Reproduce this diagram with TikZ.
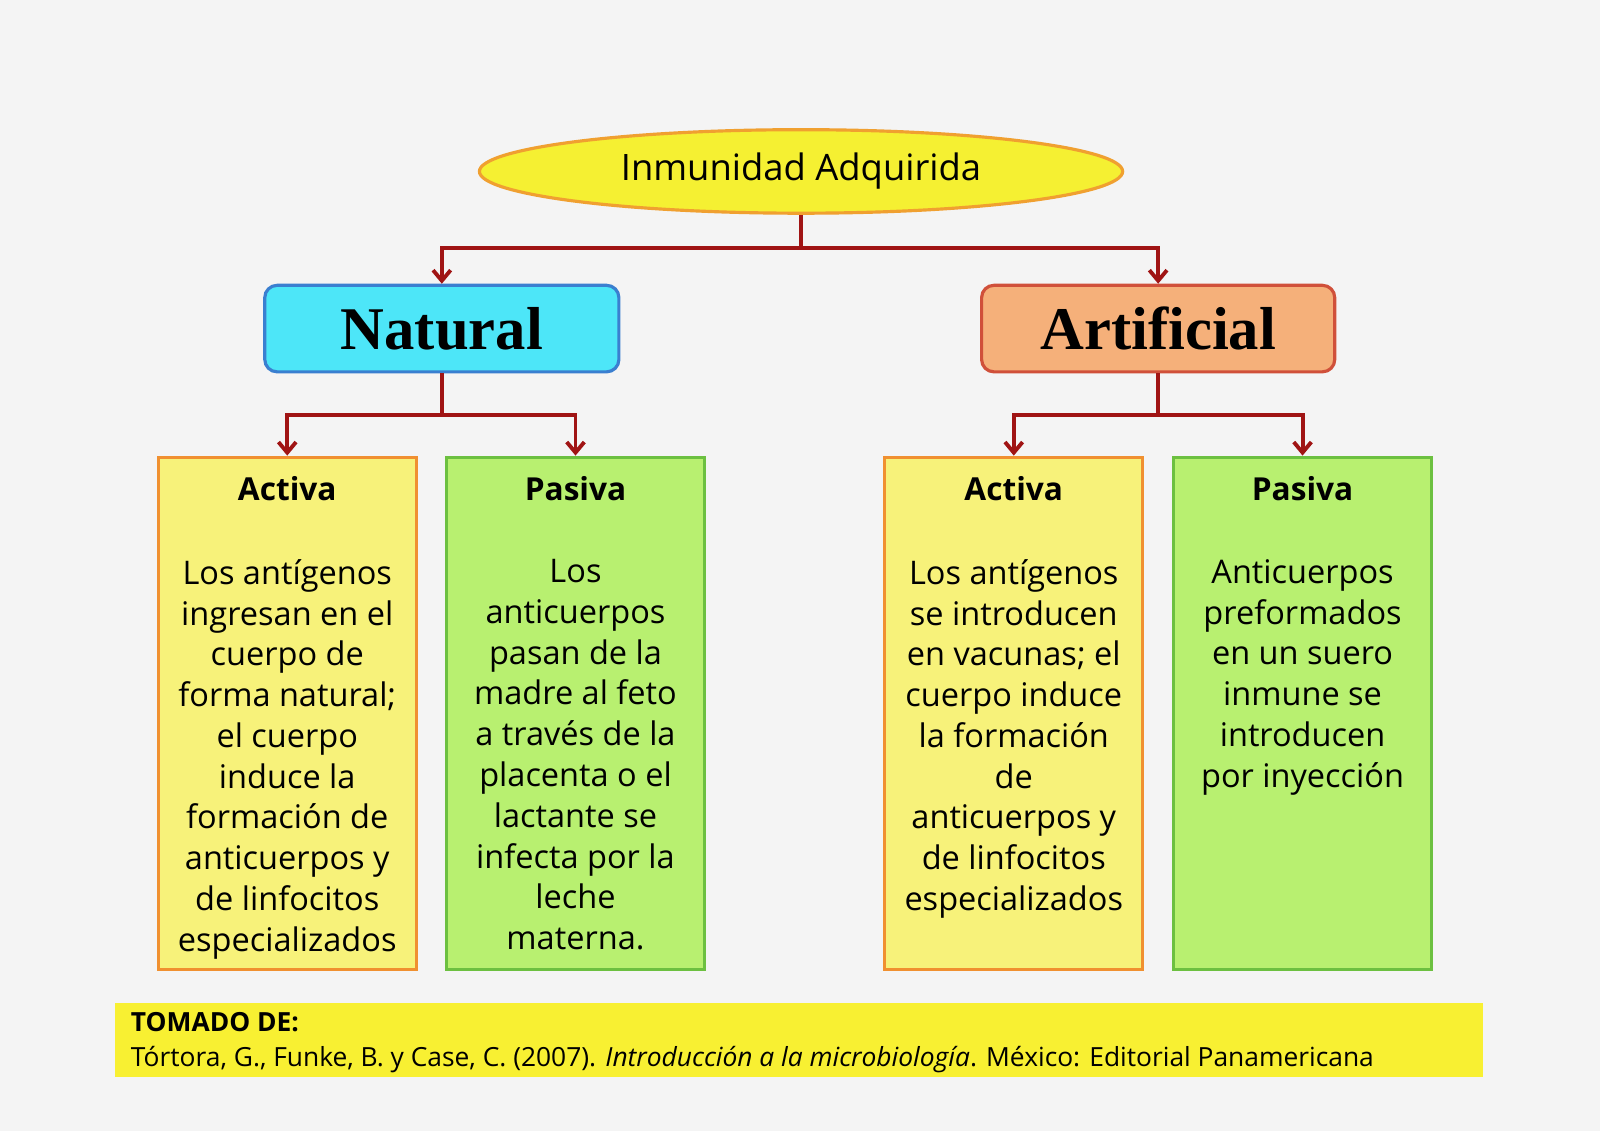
\documentclass[tikz,border=0pt]{standalone}
\usepackage{fontspec}
\setmainfont{Open Sans}
\newfontfamily\titlefont{Liberation Serif}
\usetikzlibrary{shapes.geometric,arrows.meta}
\definecolor{bg}{HTML}{F4F4F4}
\definecolor{conn}{HTML}{A01414}
\definecolor{ellfill}{HTML}{F5F032}
\definecolor{ellbord}{HTML}{F0A030}
\definecolor{natfill}{HTML}{4DE6F8}
\definecolor{natbord}{HTML}{3A7FD0}
\definecolor{artfill}{HTML}{F5B07A}
\definecolor{artbord}{HTML}{D0503A}
\definecolor{actfill}{HTML}{F7F27A}
\definecolor{actbord}{HTML}{F09030}
\definecolor{pasfill}{HTML}{B8F070}
\definecolor{pasbord}{HTML}{6CC040}
\definecolor{footfill}{HTML}{F8F032}
\tikzset{
 x=0.020408cm,y=-0.020408cm,
 conn/.style={draw=conn,line width=2.2pt,-{Straight Barb[length=6pt,width=10pt]}},
 leaf/.style={line width=1.8pt,minimum width=5.16cm,minimum height=10.24cm,inner sep=0pt},
 body/.style={align=center,font=\fontsize{18.5}{23.2}\selectfont,anchor=north},
 head/.style={font=\fontsize{18}{21}\selectfont\bfseries,anchor=north},
}
\begin{document}
\begin{tikzpicture}
\fill[bg] (0,0) rectangle (1568,1108);
\useasboundingbox (0,0) rectangle (1568,1108);
\node[ellipse,draw=ellbord,fill=ellfill,line width=1.8pt,minimum width=12.86cm,minimum height=1.67cm,font=\fontsize{20.7}{24}\selectfont] (root) at (785,168) {Inmunidad Adquirida};
\node[draw=natbord,fill=natfill,rounded corners=7pt,line width=1.8pt,minimum width=7.08cm,minimum height=1.73cm,font=\titlefont\fontsize{34.5}{38}\selectfont\bfseries] (nat) at (433,322) {Natural};
\node[draw=artbord,fill=artfill,rounded corners=7pt,line width=1.8pt,minimum width=7.06cm,minimum height=1.73cm,font=\titlefont\fontsize{34.5}{38}\selectfont\bfseries] (art) at (1135,322) {Artificial};
\node[leaf,draw=actbord,fill=actfill] (a1) at (281.5,699) {};
\node[leaf,draw=pasbord,fill=pasfill] (p1) at (564,699) {};
\node[leaf,draw=actbord,fill=actfill] (a2) at (993.5,699) {};
\node[leaf,draw=pasbord,fill=pasfill] (p2) at (1276.5,699) {};
\foreach \b in {a1,a2}{\node[head] (h\b) at ([yshift=-0.3cm]\b.north) {Activa};}
\foreach \b in {p1,p2}{\node[head] (h\b) at ([yshift=-0.3cm]\b.north) {Pasiva};}
\node[body] (t1) at ([yshift=-1.95cm]a1.north) {Los antígenos\\ingresan en el\\cuerpo de\\forma natural;\\el cuerpo\\induce la\\formación de\\anticuerpos y\\de linfocitos\\especializados};
\node[body] (t2) at ([yshift=-1.95cm]p1.north) {Los\\anticuerpos\\pasan de la\\madre al feto\\a través de la\\placenta o el\\lactante se\\infecta por la\\leche\\materna.};
\node[body] (t3) at ([yshift=-1.95cm]a2.north) {Los antígenos\\se introducen\\en vacunas; el\\cuerpo induce\\la formación\\de\\anticuerpos y\\de linfocitos\\especializados};
\node[body] (t4) at ([yshift=-1.95cm]p2.north) {Anticuerpos\\preformados\\en un suero\\inmune se\\introducen\\por inyección};
\coordinate (r1) at (785,243);
\coordinate (n1) at (433,407);
\coordinate (m1) at (1135,407);
\draw[draw=conn,line width=2.2pt] (root.south) -- (r1);
\draw[conn] (r1) -| (nat.north);
\draw[conn] (r1) -| (art.north);
\draw[draw=conn,line width=2.2pt] (nat.south) -- (n1);
\draw[conn] (n1) -| (a1.north);
\draw[conn] (n1) -| (p1.north);
\draw[draw=conn,line width=2.2pt] (art.south) -- (m1);
\draw[conn] (m1) -| (a2.north);
\draw[conn] (m1) -| (p2.north);
\node[fill=footfill,minimum width=27.35cm,minimum height=1.49cm,inner sep=0pt] (foot) at (783,1019) {};
\node[anchor=north west,align=left,inner sep=0pt,font=\fontsize{15}{19.5}\selectfont] (ftext) at (128,992) {\textbf{TOMADO DE:}\\Tórtora, G., Funke, B. y Case, C. (2007). \textit{Introducción a la microbiología}. México: Editorial Panamericana};
\end{tikzpicture}
\end{document}
